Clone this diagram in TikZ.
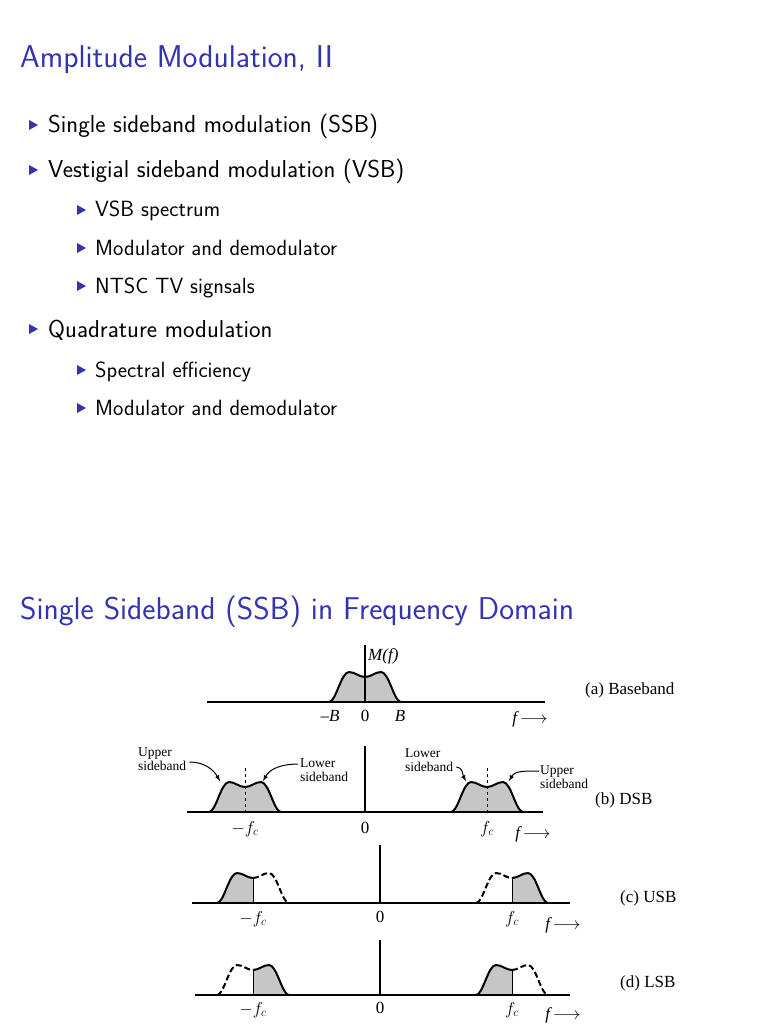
\documentclass[tikz,border=0pt]{standalone}
\usepackage{fontspec}
\newfontfamily\figfont{Liberation Serif}
\definecolor{titleblue}{RGB}{51,51,179}
\tikzset{
  ttl/.style={anchor=base west,inner sep=0pt,text=titleblue,font=\sffamily\fontsize{31.5}{36}\selectfont},
  item/.style={anchor=base west,inner sep=0pt,font=\sffamily\fontsize{24.5}{28}\selectfont},
  subitem/.style={anchor=base west,inner sep=0pt,font=\sffamily\fontsize{22}{26}\selectfont},
  lab/.style={inner sep=0pt,font=\figfont\fontsize{17}{19}\selectfont},
  slab/.style={inner sep=0pt,font=\figfont\fontsize{13.5}{14.5}\selectfont,align=left},
  axis/.style={line width=1.2pt},
  curve/.style={line width=2pt},
  dsh/.style={dash pattern=on 6pt off 3pt},
  ann/.style={-latex,line width=1pt},
}
\newcommand\bul[2]{\fill[titleblue] (#1,#2) -- ++(0,10) -- ++(9,-5) -- cycle;}
\newcommand\fillL[2]{\fill[gray!45,shift={(#1,#2)}] (-36,0) .. controls (-29,0) and (-24,-30) .. (-16,-30) .. controls (-10,-30) and (-6,-25) .. (0,-25) -- (0,0) -- cycle;}
\newcommand\fillR[2]{\fill[gray!45,shift={(#1,#2)}] (0,0) -- (0,-25) .. controls (6,-25) and (10,-30) .. (16,-30) .. controls (24,-30) and (29,0) .. (36,0) -- cycle;}
\newcommand\drawL[3]{\draw[curve,#3,shift={(#1,#2)}] (-36,0) .. controls (-29,0) and (-24,-30) .. (-16,-30) .. controls (-10,-30) and (-6,-25) .. (0,-25);}
\newcommand\drawR[3]{\draw[curve,#3,shift={(#1,#2)}] (0,-25) .. controls (6,-25) and (10,-30) .. (16,-30) .. controls (24,-30) and (29,0) .. (36,0);}
\begin{document}
\begin{tikzpicture}[x=1pt,y=-1pt]
\useasboundingbox[fill=white] (0,0) rectangle (768,1024);
% titles
\node[ttl] (t1) at (20,68) {Amplitude Modulation, II};
\node[ttl] (t2) at (20,619) {Single Sideband (SSB) in Frequency Domain};
% bullets
\bul{29}{120}\node[item] (b1) at (48,133) {Single sideband modulation (SSB)};
\bul{29}{165}\node[item] (b2) at (48,178) {Vestigial sideband modulation (VSB)};
\bul{77}{205}\node[subitem] (s1) at (95,217) {VSB spectrum};
\bul{77}{243}\node[subitem] (s2) at (95,255) {Modulator and demodulator};
\bul{77}{281}\node[subitem] (s3) at (95,293) {NTSC TV signsals};
\bul{29}{324}\node[item] (b3) at (48,337) {Quadrature modulation};
\bul{77}{365}\node[subitem] (s4) at (95,377) {Spectral efficiency};
\bul{77}{403}\node[subitem] (s5) at (95,415) {Modulator and demodulator};
% (a) baseband
\fillL{365}{702}\fillR{365}{702}
\drawL{365}{702}{}\drawR{365}{702}{}
\draw[axis] (207,702) -- (545,702);
\draw[axis] (365,645) -- (365,702);
\node[lab,anchor=west] (mf) at (368,656) {\itshape M(f)};
\node[lab] (mb) at (330,716) {\itshape –B};
\node[lab] (z1) at (365,716) {0};
\node[lab] (pb) at (400,716) {\itshape B};
\node[lab] (f1) at (530,719) {\itshape f\,$\longrightarrow$};
\node[lab,anchor=west] (ca) at (585,690) {(a) Baseband};
% (b) DSB
\foreach \c in {245,487}{\fillL{\c}{812}\fillR{\c}{812}\drawL{\c}{812}{}\drawR{\c}{812}{}
  \draw[dashed,line width=0.8pt] (\c,768) -- (\c,812);}
\draw[axis] (187,812) -- (543,812);
\draw[axis] (365,746) -- (365,812);
\node[lab] (mfc2) at (245,829) {$-f_c$};
\node[lab] (z2) at (365,828) {0};
\node[lab] (fc2) at (487,829) {$f_c$};
\node[lab] (f2) at (533,834) {\itshape f\,$\longrightarrow$};
\node[lab,anchor=west] (cb) at (595,800) {(b) DSB};
\node[slab,anchor=west] (us1) at (138,759) {Upper\\sideband};
\node[slab,anchor=west] (ls1) at (300,770) {Lower\\sideband};
\node[slab,anchor=west] (ls2) at (405,760) {Lower\\sideband};
\node[slab,anchor=west] (us2) at (540,777) {Upper\\sideband};
\coordinate (a1) at (220,781); \coordinate (a2) at (263,781);
\coordinate (a3) at (466,781); \coordinate (a4) at (509,781);
\draw[ann] (us1.east) ++(3,3) to[out=0,in=120] (a1);
\draw[ann] (ls1.north west) ++(-2,6) to[out=180,in=60] (a2);
\draw[ann] (ls2.east) ++(3,7) to[out=0,in=120] (a3);
\draw[ann] (us2.north west) ++(-1,6) to[out=180,in=60] (a4);
% (c) USB
\fillL{253}{903}\fillR{512}{903}
\drawL{253}{903}{}\drawR{253}{903}{dsh}
\drawL{512}{903}{dsh}\drawR{512}{903}{}
\draw[line width=1pt] (253,878) -- (253,903) (512,878) -- (512,903);
\draw[axis] (192,903) -- (570,903);
\draw[axis] (380,845) -- (380,903);
\node[lab] (mfc3) at (253,919) {$-f_c$};
\node[lab] (z3) at (380,917) {0};
\node[lab] (fc3) at (512,919) {$f_c$};
\node[lab] (f3) at (563,925) {\itshape f\,$\longrightarrow$};
\node[lab,anchor=west] (cc) at (620,898) {(c) USB};
% (d) LSB
\fillR{253}{995}\fillL{512}{995}
\drawL{253}{995}{dsh}\drawR{253}{995}{}
\drawL{512}{995}{}\drawR{512}{995}{dsh}
\draw[line width=1pt] (253,970) -- (253,995) (512,970) -- (512,995);
\draw[axis] (195,995) -- (570,995);
\draw[axis] (380,940) -- (380,995);
\node[lab] (mfc4) at (253,1010) {$-f_c$};
\node[lab] (z4) at (380,1008) {0};
\node[lab] (fc4) at (512,1010) {$f_c$};
\node[lab] (f4) at (563,1015) {\itshape f\,$\longrightarrow$};
\node[lab,anchor=west] (cd) at (620,983) {(d) LSB};
\end{tikzpicture}
\end{document}
